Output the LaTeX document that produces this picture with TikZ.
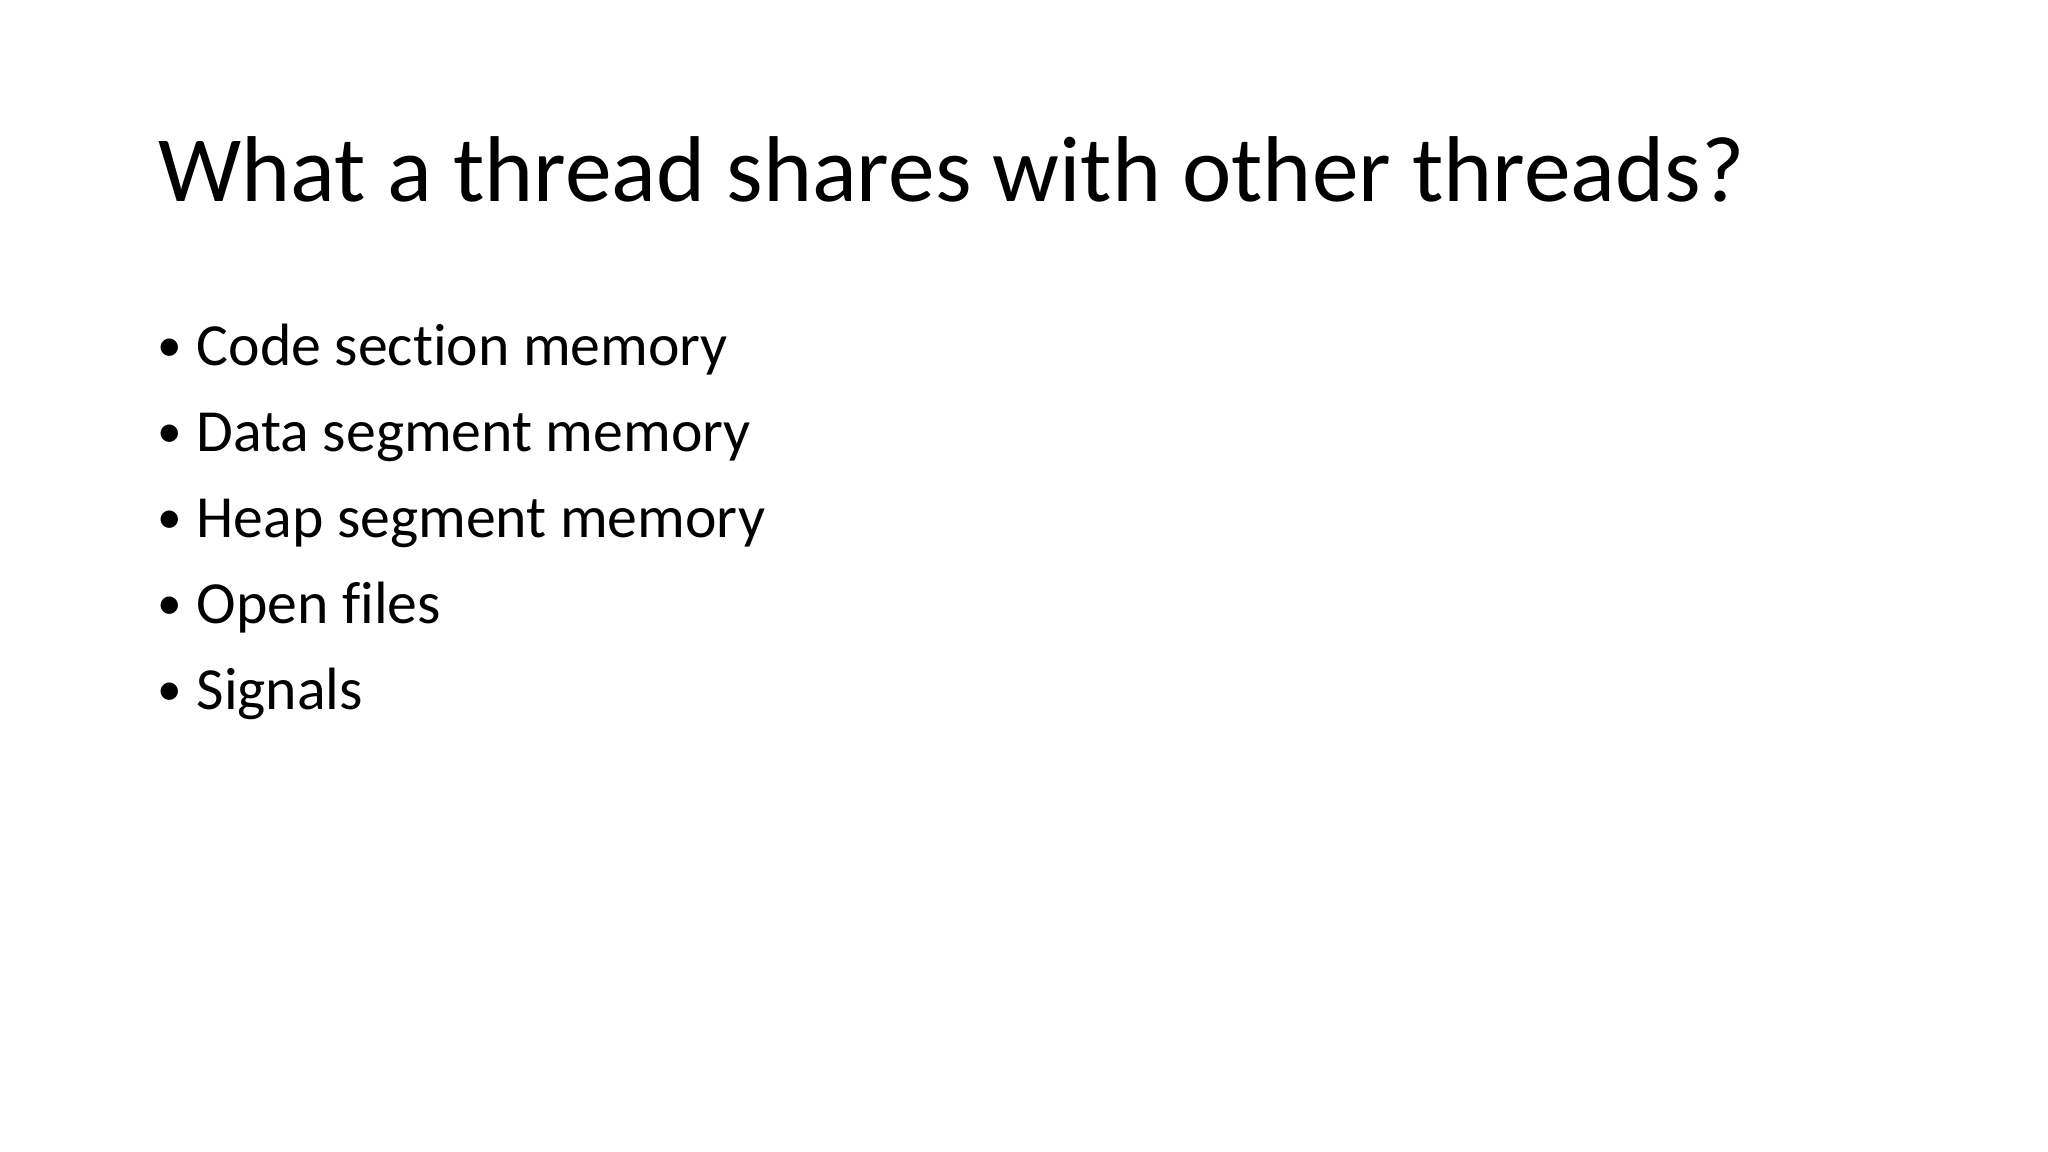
\documentclass[tikz,border=0pt]{standalone}
\usepackage{fontspec}
\setmainfont[Ligatures={NoCommon}]{Carlito}
\begin{document}
\begin{tikzpicture}[item/.style={anchor=base west, inner sep=0pt, font=\fontsize{17pt}{20pt}\selectfont}]
  \useasboundingbox (0,0) rectangle (20.48,11.52);
  % title
  \node[anchor=base west, inner sep=0pt, font=\fontsize{26.6pt}{32pt}\selectfont] (title) at (1.58,9.50) {What a thread shares with other threads?};
  % bullet list
  \foreach \txt [count=\i] in {Code section memory, Data segment memory, Heap segment memory, Open files, Signals} {
    \node[item, font=\fontsize{14pt}{16pt}\selectfont] (dot\i) at (1.57,{7.90-0.86*(\i-1)}) {\textbullet};
    \node[item] (item\i) at (1.96,{7.86-0.86*(\i-1)}) {\txt};
  }
\end{tikzpicture}
\end{document}
